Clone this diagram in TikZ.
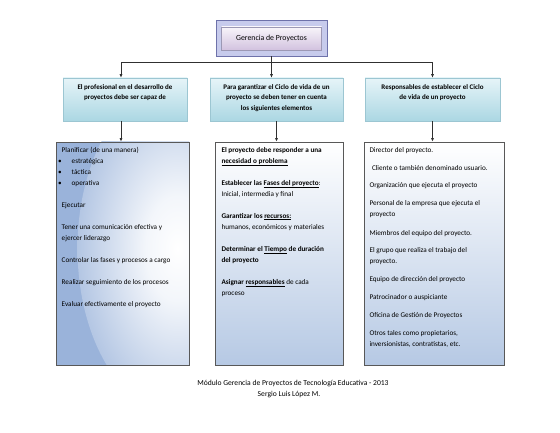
\documentclass[tikz,border=0pt]{standalone}
\usepackage{fontspec}
\setmainfont{Carlito}
\usetikzlibrary{arrows.meta,shadows,calc}
\definecolor{upTop}{HTML}{E6F4F8}
\definecolor{upBot}{HTML}{ABD7E3}
\definecolor{upBorder}{HTML}{9CC6D2}
\definecolor{tOuter}{HTML}{C7CBEC}
\definecolor{tOuterBorder}{HTML}{6E72AA}
\definecolor{tInTop}{HTML}{F8F5FA}
\definecolor{tInBot}{HTML}{D2C2DF}
\definecolor{tInBorder}{HTML}{9C98B4}
\definecolor{lowBorder}{HTML}{585858}
\definecolor{lowBot}{HTML}{B6C9E4}
\definecolor{lowBlue}{HTML}{9AB3DA}
\definecolor{lineCol}{HTML}{303030}
\pgfdeclareradialshading{leftglow}{\pgfpoint{0bp}{0bp}}{color(0bp)=(white); color(8bp)=(white!88!lowBlue); color(32bp)=(lowBlue); color(50bp)=(lowBlue)}
\tikzset{
  upbox/.style={draw=upBorder, line width=0.5pt, top color=upTop, bottom color=upBot, inner sep=0pt,
    drop shadow={shadow xshift=0.6pt, shadow yshift=-1.2pt, opacity=0.35, fill=black!60}},
  lowbox/.style={draw=lowBorder, line width=0.7pt, inner sep=0pt,
    drop shadow={shadow xshift=0.6pt, shadow yshift=-1.2pt, opacity=0.35, fill=black!60}},
  arr/.style={draw=lineCol, line width=0.8pt, -{Latex[length=3.5pt,width=3pt]}},
  conn/.style={draw=lineCol, line width=0.8pt}
}
\newcommand{\uptext}[2]{\parbox[c][43pt][t]{#1}{\centering\fontsize{7}{10.5}\selectfont\bfseries\vspace*{6.3pt}#2\par}}
\newcommand{\lowtext}[3]{\parbox[c][223pt][t]{#1}{\raggedright\leftskip=#2\fontsize{7.2}{11}\selectfont\vspace*{5pt}#3\par}}
\newcommand{\bul}{\hspace*{-3.5pt}\makebox[13.5pt][l]{•}}
\begin{document}
\begin{tikzpicture}[x=1pt,y=-1pt]
\useasboundingbox (0,0) rectangle (560,433);
\fill[white] (0,0) rectangle (560,433);

% title
\node[draw=tOuterBorder, line width=0.9pt, fill=tOuter, minimum width=111pt, minimum height=36pt, inner sep=0pt] (tframe) at (271.5,38) {};
\node[draw=tInBorder, line width=0.5pt, top color=tInTop, bottom color=tInBot, minimum width=100pt, minimum height=23pt, inner sep=0pt,
  font=\fontsize{7.8}{9}\selectfont] (title) at (271.5,38.5) {Gerencia de Proyectos};

% upper boxes
\node[upbox] (up1) at (125,99.5) {\uptext{124pt}{El profesional en el desarrollo de\\proyectos debe ser capaz de}};
\node[upbox] (up2) at (276.5,99.5) {\uptext{133pt}{Para garantizar el Ciclo de vida de un\\proyecto se deben tener en cuenta\\los siguientes elementos}};
\node[upbox] (up3) at (432.5,99.5) {\uptext{135pt}{Responsables de establecer el Ciclo\\de vida de un proyecto}};

% lower boxes
\node[lowbox, path picture={
    \fill[lowBlue] (path picture bounding box.south west) rectangle (path picture bounding box.north east);
    \shade[shading=leftglow] ($(path picture bounding box.center)+(55,-5)$) ellipse (100pt and 165pt);}] (low1) at (122.5,253.5)
  {\lowtext{133pt}{5.7pt}{Planificar (de una manera)\\
  \bul estratégica\\
  \bul táctica\\
  \bul operativa\\[11pt]
  Ejecutar\\[11pt]
  Tener una comunicación efectiva y\\
  ejercer liderazgo\\[11pt]
  Controlar las fases y procesos a cargo\\[11pt]
  Realizar seguimiento de los procesos\\[11pt]
  Evaluar efectivamente el proyecto}};

\node[lowbox, top color=white, bottom color=lowBot] (low2) at (279.5,253.5)
  {\lowtext{128pt}{6pt}{\textbf{El proyecto debe responder a una}\\
  \textbf{\underline{necesidad o problema}}\\[11pt]
  \textbf{Establecer las \underline{Fases del proyecto}}:\\
  Inicial, intermedia y final\\[11pt]
  \textbf{Garantizar los \underline{recursos:}}\\
  humanos, económicos y materiales\\[11pt]
  \textbf{Determinar el \underline{Tiempo} de duración}\\
  \textbf{del proyecto}\\[11pt]
  \textbf{Asignar \underline{responsables}} de cada\\
  proceso}};

\node[lowbox, top color=white, bottom color=lowBot] (low3) at (434.25,253.5)
  {\lowtext{139.5pt}{5pt}{Director del proyecto.\\[7pt]
  \hspace*{2.5pt}Cliente o también denominado usuario.\\[7pt]
  Organización que ejecuta el proyecto\\[7pt]
  Personal de la empresa que ejecuta el\\
  proyecto\\[7pt]
  Miembros del equipo del proyecto.\\[7pt]
  El grupo que realiza el trabajo del\\
  proyecto.\\[7pt]
  Equipo de dirección del proyecto\\[7pt]
  Patrocinador o auspiciante\\[7pt]
  Oficina de Gestión de Proyectos\\[7pt]
  Otros tales como propietarios,\\
  inversionistas, contratistas, etc.}};

% connectors
\coordinate (j) at ($(tframe.south)+(0,6)$);
\draw[conn] (tframe.south) -- (j);
\draw[arr] (j) -| ([xshift=-4pt]up1.north);
\draw[arr] (j) -| (up3.north);
\draw[arr] (tframe.south) -- (tframe.south |- up2.north);
\draw[arr] ([xshift=-4pt]up1.south) -- ([xshift=-4pt]up1.south |- low1.north);
\draw[arr] (up2.south) -- (up2.south |- low2.north);
\draw[arr] (up3.south) -- (up3.south |- low3.north);

% footer
\node[align=center, font=\fontsize{7.6}{11}\selectfont, inner sep=0pt] (foot) at (293,389.5)
  {Módulo Gerencia de Proyectos de Tecnología Educativa - 2013\\Sergio Luis López M.\hspace*{8pt}};
\end{tikzpicture}
\end{document}
